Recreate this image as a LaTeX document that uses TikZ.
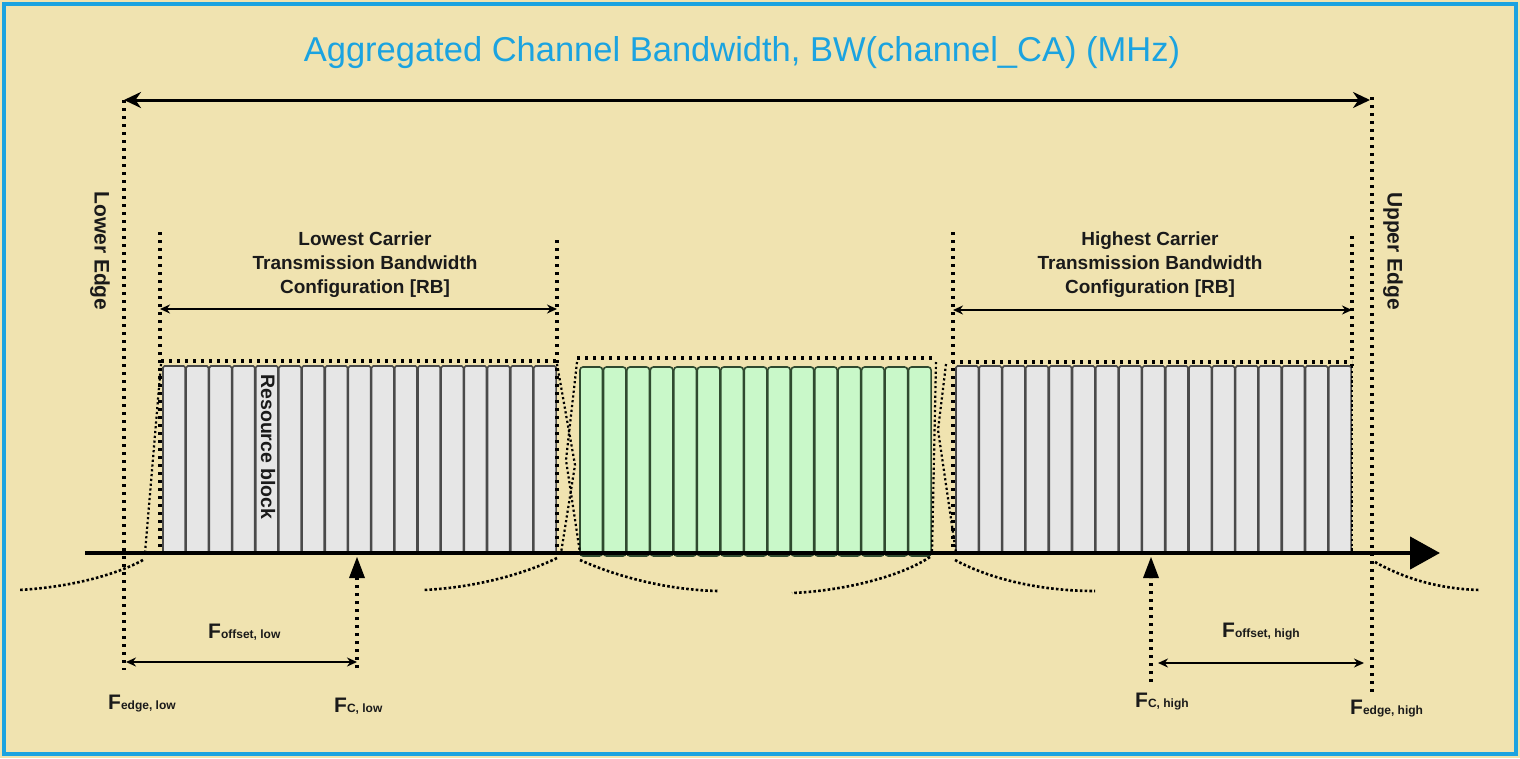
\documentclass[tikz,border=0pt]{standalone}
\usepackage{fontspec}
\setmainfont{Liberation Sans}
\usetikzlibrary{arrows.meta}
\definecolor{bgc}{HTML}{F0E3B0}
\definecolor{bluec}{HTML}{1BA3E0}
\definecolor{rbgray}{HTML}{E6E6E6}
\definecolor{rbline}{HTML}{4A4A4A}
\definecolor{rbgreen}{HTML}{C9F8C9}
\definecolor{rbgline}{HTML}{2F4A2F}
\definecolor{txt}{HTML}{1A1A1A}
\tikzset{
  bigdot/.style={line width=3.4pt, dash pattern=on 3.4pt off 4.6pt, line cap=butt},
  thindot/.style={line width=2.2pt, dash pattern=on 2.2pt off 2.6pt},
  curvedot/.style={line width=2.6pt, dash pattern=on 2.6pt off 2.2pt},
  graybox/.style={fill=rbgray, draw=rbline, line width=1.6pt, rounded corners=1.5pt},
  greenbox/.style={fill=rbgreen, draw=rbgline, line width=1.6pt, rounded corners=3pt},
  lbl/.style={text=txt, font=\bfseries\fontsize{19}{24}\selectfont, align=center, inner sep=0pt},
  flbl/.style={text=txt, inner sep=0pt, anchor=base west},
  dimarrow/.style={line width=2.4pt, {Stealth[length=10pt,width=9pt]}-{Stealth[length=10pt,width=9pt]}},
}
\newcommand{\Flabel}[1]{{\bfseries\fontsize{21}{22}\selectfont F}{\bfseries\fontsize{12}{13}\selectfont #1}}
\begin{document}
\begin{tikzpicture}[x=1pt,y=-1pt]
\useasboundingbox (0,0) rectangle (1520,758);
\fill[bgc] (0,0) rectangle (1520,758);
\draw[bluec, line width=4.5pt] (4,4) rectangle (1516,754);

% title
\node[text=bluec, font=\fontsize{34.5}{40}\selectfont, inner sep=0pt] (title) at (742,53) {Aggregated Channel Bandwidth, BW(channel\_CA) (MHz)};

% resource blocks
\foreach \i in {0,...,16} {
  \pgfmathsetmacro{\xa}{163+\i*23.18}
  \pgfmathsetmacro{\xb}{\xa+22.2}
  \draw[graybox] (\xa,366) rectangle (\xb,553);
}
\foreach \i in {0,...,14} {
  \pgfmathsetmacro{\xa}{580+\i*23.47}
  \pgfmathsetmacro{\xb}{\xa+22.5}
  \draw[greenbox] (\xa,367) rectangle (\xb,556);
}
\foreach \i in {0,...,16} {
  \pgfmathsetmacro{\xa}{956+\i*23.3}
  \pgfmathsetmacro{\xb}{\xa+22.3}
  \draw[graybox] (\xa,366) rectangle (\xb,553);
}
\node[rotate=-90, text=txt, font=\bfseries\fontsize{19.5}{22}\selectfont, inner sep=0pt] (rb) at (268,447) {Resource block};

% envelopes
\draw[bigdot] (161,361) -- (557,361);
\draw[thindot] (161,364) -- (145,553);
\draw[thindot] (557,364) -- (575,465) -- (561,553);
\draw[bigdot] (577,358) -- (935,358);
\draw[thindot] (577,362) -- (566,460) -- (580,553);
\draw[thindot] (936,362) -- (932,553);
\draw[bigdot] (952,362) -- (1352,362);
\draw[thindot] (946,364) -- (938,430) -- (956,553);
\draw[thindot] (1352,366) -- (1352,553);

% spectrum skirts
\draw[curvedot] (143,560) .. controls (110,578) and (60,588) .. (18,590);
\draw[curvedot] (557,558) .. controls (520,576) and (470,588) .. (423,590);
\draw[curvedot] (580,560) .. controls (620,578) and (670,590) .. (718,591);
\draw[curvedot] (930,557) .. controls (898,578) and (840,591) .. (792,593);
\draw[curvedot] (955,560) .. controls (990,579) and (1040,591) .. (1095,591);
\draw[curvedot] (1375,562) .. controls (1405,579) and (1440,589) .. (1480,590);

% axis
\coordinate (axL) at (85,553);
\coordinate (axR) at (1440,553);
\draw[line width=4.5pt, -{Triangle[length=30pt,width=32pt]}] (axL) -- (axR);

% edge lines
\coordinate (leT) at (124,100);
\coordinate (leB) at (124,670);
\coordinate (ueT) at (1372,97);
\coordinate (ueB) at (1372,692);
\draw[bigdot] (leT) -- (leB);
\draw[bigdot] (ueT) -- (ueB);
\node[rotate=-90, lbl, font=\bfseries\fontsize{21}{22}\selectfont] (lowedge) at (100,251) {Lower Edge};
\node[rotate=-90, lbl, font=\bfseries\fontsize{21}{22}\selectfont] (upedge) at (1393,251) {Upper Edge};
\draw[line width=3pt, {Stealth[length=17pt,width=16pt]}-{Stealth[length=17pt,width=16pt]}] (leT) -- (1370,100);

% carrier dotted markers
\coordinate (lcL) at (160,232);
\coordinate (lcR) at (557,240);
\coordinate (hcL) at (953,232);
\coordinate (hcR) at (1352,236);
\draw[bigdot] (lcL) -- (160,553);
\draw[bigdot] (lcR) -- (557,553);
\draw[bigdot] (hcL) -- (953,553);
\draw[bigdot] (hcR) -- (1352,366);
\draw[dimarrow] (160,309) -- (557,309);
\draw[dimarrow] (953,310) -- (1352,310);
\node[lbl] (lowc) at (365,265) {Lowest Carrier\\Transmission Bandwidth\\Configuration [RB]};
\node[lbl] (highc) at (1150,265) {Highest Carrier\\Transmission Bandwidth\\Configuration [RB]};

% carrier centre arrows
\coordinate (fclB) at (357,668);
\coordinate (fclT) at (357,557);
\coordinate (fchB) at (1151,682);
\coordinate (fchT) at (1151,557);
\draw[bigdot] (fclB) -- (357,578);
\draw[bigdot] (fchB) -- (1151,578);
\fill (fclT) -- (349,578) -- (365,578) -- cycle;
\fill (fchT) -- (1143,578) -- (1159,578) -- cycle;

% offsets
\draw[dimarrow] (126,662) -- (357,662);
\draw[dimarrow] (1158,663) -- (1364,663);
\node[flbl] (foffl) at (208,638) {\Flabel{offset, low}};
\node[flbl] (foffh) at (1222,637) {\Flabel{offset, high}};
\node[flbl] (fedgel) at (108,709) {\Flabel{edge, low}};
\node[flbl] (fcl) at (334,712) {\Flabel{C, low}};
\node[flbl] (fch) at (1135,707) {\Flabel{C, high}};
\node[flbl] (fedgeh) at (1350,714) {\Flabel{edge, high}};
\end{tikzpicture}
\end{document}
